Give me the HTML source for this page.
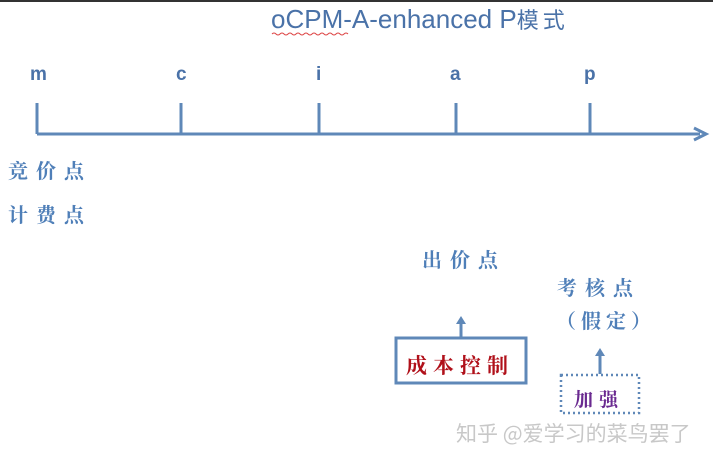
<!DOCTYPE html>
<html><head><meta charset="utf-8"><style>
body{margin:0;width:713px;height:459px;background:#fff;position:relative;overflow:hidden;font-family:"Liberation Sans","Noto Sans CJK SC",sans-serif}
.t{position:absolute;white-space:nowrap;color:#4f7fb8}
.cn{font-family:"Noto Serif CJK SC","Noto Sans CJK SC",serif;font-weight:bold;font-size:20px;letter-spacing:8px}
.l{font-weight:bold;font-size:19px;color:#4a72a8}
</style></head><body>
<div style="position:absolute;left:0;top:0;width:713px;height:2px;background:#333"></div>
<div class="t" style="left:271px;top:3px;font-size:26px;color:#4a72a8">oCPM-A-enhanced P<span style="font-family:'Noto Sans CJK SC';font-size:22px;letter-spacing:4px">模式</span></div>
<svg width="713" height="459" style="position:absolute;left:0;top:0">
<path d="M272 34 q2 -2 4 0 t4 0 t4 0 t4 0 t4 0 t4 0 t4 0 t4 0 t4 0 t4 0 t4 0 t4 0 t4 0 t4 0 t4 0 t4 0 t4 0 t4 0 t4 0" stroke="#d44" stroke-width="1" fill="none"/>
<g stroke="#5f88b8" stroke-width="3">
<line x1="37" y1="134" x2="700" y2="134"/>
<line x1="37" y1="103" x2="37" y2="134"/>
<line x1="181" y1="103" x2="181" y2="134"/>
<line x1="319" y1="103" x2="319" y2="134"/>
<line x1="456" y1="103" x2="456" y2="134"/>
<line x1="590" y1="103" x2="590" y2="134"/>
<line x1="461" y1="337" x2="461" y2="322"/>
<line x1="600" y1="374" x2="600" y2="354"/>
</g>
<path d="M694 128 L706 134 L694 140" stroke="#5f88b8" stroke-width="3" fill="none"/>
<path d="M456 324 L461 316 L466 324Z" fill="#5f88b8"/>
<path d="M595 356 L600 348 L605 356Z" fill="#5f88b8"/>
<rect x="396" y="338" width="130" height="45" fill="none" stroke="#5f88b8" stroke-width="3"/>
<rect x="561" y="375" width="78" height="38" fill="none" stroke="#5f88b8" stroke-width="2.5" stroke-dasharray="2,3"/>
</svg>
<div class="t l" style="left:30px;top:64px">m</div>
<div class="t l" style="left:176px;top:64px">c</div>
<div class="t l" style="left:316px;top:64px">i</div>
<div class="t l" style="left:450px;top:64px">a</div>
<div class="t l" style="left:584px;top:64px">p</div>
<div class="t cn" style="left:8px;top:155px">竞价点</div>
<div class="t cn" style="left:8px;top:199px">计费点</div>
<div class="t cn" style="left:422px;top:244px">出价点</div>
<div class="t cn" style="left:557px;top:272px">考核点</div>
<div class="t cn" style="left:556px;top:305px;letter-spacing:5px">（假定）</div>
<div class="t cn" style="left:406px;top:350px;color:#b0101a;font-size:21px;letter-spacing:6px">成本控制</div>
<div class="t cn" style="left:574px;top:385px;color:#6a2a90;font-size:19px;letter-spacing:6px">加强</div>
<div class="t" style="left:456px;top:418px;font-size:21px;color:#c8c8c8;font-family:'Noto Sans CJK SC',sans-serif">知乎 @爱学习的菜鸟罢了</div>
</body></html>
